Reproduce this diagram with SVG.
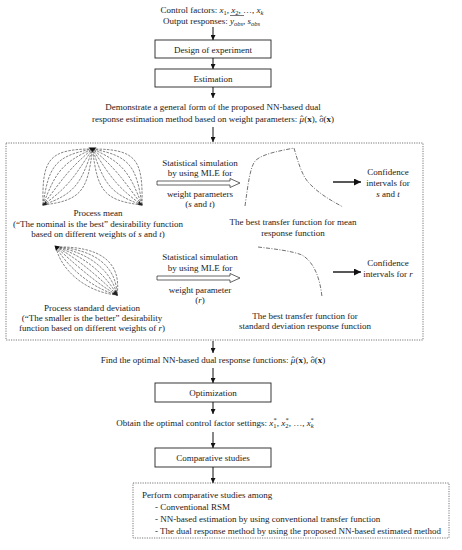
<svg xmlns="http://www.w3.org/2000/svg" width="462" height="550" viewBox="0 0 462 550">
<defs>
<marker id="ah" viewBox="0 0 6 6" refX="6" refY="3" markerWidth="5" markerHeight="5" orient="auto" markerUnits="userSpaceOnUse"><path d="M0,0 L6,3 L0,6 z" fill="#111"/></marker>
<marker id="ah2" viewBox="0 0 6 6" refX="6" refY="3" markerWidth="7" markerHeight="7" orient="auto" markerUnits="userSpaceOnUse"><path d="M0,0 L6,3 L0,6 z" fill="#111"/></marker>
<style>
text { font-family: "Liberation Serif", "Times New Roman", serif; font-size: 9px; fill: #1a1a1a; }
.m { text-anchor: middle; }
.i { font-style: italic; }
.b { font-weight: bold; }
.sub { font-size: 6.5px; }
.box { fill: #fff; stroke: #222; stroke-width: 0.9; }
.dbox { fill: none; stroke: #555; stroke-width: 0.8; stroke-dasharray: 1.2 1.2; }
.arr { stroke: #111; stroke-width: 1; fill: none; marker-end: url(#ah); }
.arr2 { stroke: #111; stroke-width: 1.4; fill: none; marker-end: url(#ah2); }
.fan { fill: none; stroke: #333; stroke-width: 0.6; stroke-dasharray: 2.5 1.2; }
.tf { fill: none; stroke: #333; stroke-width: 0.7; stroke-dasharray: 4 1.5 1 1.5; }
.hol { fill: #fff; stroke: #222; stroke-width: 0.7; }
</style>
</defs>
<rect width="462" height="550" fill="#fff"/>

<g id="inputs">
<text x="212" y="13" class="m">Control factors: <tspan class="i">x</tspan><tspan class="sub" dy="2">1</tspan><tspan dy="-2">, </tspan><tspan class="i">x</tspan><tspan class="sub" dy="2">2</tspan><tspan dy="-2">, …, </tspan><tspan class="i">x</tspan><tspan class="sub i" dy="2">k</tspan></text>
<text x="163" y="24">Output responses: <tspan class="i">y</tspan><tspan class="sub i" dy="2">obs</tspan><tspan dy="-2">, </tspan><tspan class="i">s</tspan><tspan class="sub i" dy="2">obs</tspan></text>
<line x1="230" y1="15.5" x2="244" y2="15.5" stroke="#1a1a1a" stroke-width="0.6"/>
</g>

<g id="design">
<rect class="box" x="155" y="40" width="116" height="18"/>
<text x="213" y="52.5" class="m">Design of experiment</text>
</g>

<g id="estimation">
<rect class="box" x="155" y="69" width="116" height="18"/>
<text x="213" y="81.5" class="m">Estimation</text>
</g>

<g id="demonstrate">
<text x="213" y="110" class="m">Demonstrate a general form of the proposed NN-based dual</text>
<text x="213" y="122" class="m">response estimation method based on weight parameters: <tspan class="i">μ</tspan><tspan dx="-3.8">ˆ</tspan><tspan dx="0.8">(</tspan><tspan class="b">x</tspan>), <tspan class="i">σ</tspan><tspan dx="-3.8">ˆ</tspan><tspan dx="0.8">(</tspan><tspan class="b">x</tspan>)</text>
</g>

<g id="estimation-detail">
<rect class="dbox" x="6" y="143" width="417" height="197"/>

<g id="mean-fan">
<path class="fan" d="M43,205 C42,160 48,149 92.5,149"/>
<path class="fan" d="M43,205 C48.6,166.75 54.6,155.9 92.5,149"/>
<path class="fan" d="M43,205 C55.2,173.5 61.2,162.8 92.5,149"/>
<path class="fan" d="M43,205 C61.8,180.25 67.8,169.7 92.5,149"/>
<path class="fan" d="M43,205 C68.4,187 74.4,176.6 92.5,149"/>
<path class="fan" d="M43,205 C75,193.75 81,183.5 92.5,149"/>
<path class="fan" d="M43,205 C81.6,200.5 87.6,190.4 92.5,149"/>
<path class="fan" d="M142,205 C143,160 137,149 92.5,149"/>
<path class="fan" d="M142,205 C136.4,166.75 130.4,155.9 92.5,149"/>
<path class="fan" d="M142,205 C129.8,173.5 123.8,162.8 92.5,149"/>
<path class="fan" d="M142,205 C123.2,180.25 117.2,169.7 92.5,149"/>
<path class="fan" d="M142,205 C116.6,187 110.6,176.6 92.5,149"/>
<path class="fan" d="M142,205 C110,193.75 104,183.5 92.5,149"/>
<path class="fan" d="M142,205 C103.4,200.5 97.4,190.4 92.5,149"/>
<path d="M88.5,147.5 L96.5,147.5 L92.5,152 z" fill="#111"/>
<path d="M42,205.5 L46,201 L47,205 z" fill="#222"/>
<path d="M143,205.5 L139,201 L138,205 z" fill="#222"/>
<text x="98" y="216" class="m">Process mean</text>
<text x="98" y="227" class="m">(“The nominal is the best” desirability function</text>
<text x="98" y="237" class="m">based on different weights of <tspan class="i">s</tspan> and <tspan class="i">t</tspan>)</text>
</g>

<g id="mean-simulation">
<text x="200" y="166" class="m">Statistical simulation</text>
<text x="200" y="176" class="m">by using MLE for</text>
<polygon class="hol" points="157,181 230,181 230,178.5 240,183 230,187.5 230,185 157,185"/>
<text x="200" y="197" class="m">weight parameters</text>
<text x="200" y="207" class="m">(<tspan class="i">s</tspan> and <tspan class="i">t</tspan>)</text>
</g>

<g id="mean-transfer">
<path class="tf" d="M245,206 C248,185 250,166 256,160 C265,153 280,151 294,148 C298,162 302,175 308,182 C318,193 330,200 343,207"/>
<text x="293" y="225" class="m">The best transfer function for mean</text>
<text x="293" y="236" class="m">response function</text>
</g>

<g id="mean-ci">
<text x="388" y="175" class="m">Confidence</text>
<text x="388" y="186" class="m">intervals for</text>
<text x="388" y="197" class="m"><tspan class="i">s</tspan> and <tspan class="i">t</tspan></text>
</g>

<g id="sd-fan">
<path class="fan" d="M56,247 C100,246 122,262 117,295"/>
<path class="fan" d="M56,247 C94.4,249.1 116.7,266.2 117,295"/>
<path class="fan" d="M56,247 C88.8,252.2 111.4,270.4 117,295"/>
<path class="fan" d="M56,247 C83.2,255.2 106,274.6 117,295"/>
<path class="fan" d="M56,247 C77.6,258.3 100.7,278.8 117,295"/>
<path class="fan" d="M56,247 C72,261.4 95.4,283 117,295"/>
<path class="fan" d="M56,247 C66,264.7 89.7,287.5 117,295"/>
<path class="fan" d="M56,247 C60,268 84,292 117,295"/>
<path d="M54.5,245.5 L60,246.5 L56,251 z" fill="#111"/>
<path d="M118,296 L112,294 L116,290 z" fill="#222"/>
<text x="92" y="311" class="m">Process standard deviation</text>
<text x="92" y="321" class="m">(“The smaller is the better” desirability</text>
<text x="92" y="331" class="m">function based on different weights of <tspan class="i">r</tspan>)</text>
</g>

<g id="sd-simulation">
<text x="200" y="260" class="m">Statistical simulation</text>
<text x="200" y="271" class="m">by using MLE for</text>
<polygon class="hol" points="157,276 230,276 230,273.5 240,278 230,282.5 230,280 157,280"/>
<text x="200" y="293" class="m">weight parameter</text>
<text x="200" y="303" class="m">(<tspan class="i">r</tspan>)</text>
</g>

<g id="sd-transfer">
<path class="tf" d="M258,247 C275,249 292,251 302,255 C314,262 320,278 322,297"/>
<text x="305" y="319" class="m">The best transfer function for</text>
<text x="305" y="329" class="m">standard deviation response function</text>
</g>

<g id="sd-ci">
<text x="388" y="266" class="m">Confidence</text>
<text x="388" y="277" class="m">intervals for <tspan class="i">r</tspan></text>
</g>
</g>

<g id="find">
<text x="213" y="363" class="m">Find the optimal NN-based dual response functions: <tspan class="i">μ</tspan><tspan dx="-3.8">ˆ</tspan><tspan dx="0.8">(</tspan><tspan class="b">x</tspan>), <tspan class="i">σ</tspan><tspan dx="-3.8">ˆ</tspan><tspan dx="0.8">(</tspan><tspan class="b">x</tspan>)</text>
</g>

<g id="optimization">
<rect class="box" x="155" y="383" width="116" height="19"/>
<text x="213" y="395.5" class="m">Optimization</text>
</g>

<g id="obtain">
<text x="215" y="426" class="m">Obtain the optimal control factor settings: <tspan class="i">x</tspan><tspan class="sub" dy="2">1</tspan><tspan class="sub" dx="-3" dy="-6">*</tspan><tspan dy="4">, </tspan><tspan class="i">x</tspan><tspan class="sub" dy="2">2</tspan><tspan class="sub" dx="-3" dy="-6">*</tspan><tspan dy="4">, …, </tspan><tspan class="i">x</tspan><tspan class="sub i" dy="2">k</tspan><tspan class="sub" dx="-3" dy="-6">*</tspan></text>
</g>

<g id="comparative">
<rect class="box" x="155" y="448" width="116" height="19"/>
<text x="213" y="460.5" class="m">Comparative studies</text>
</g>

<g id="perform">
<rect class="dbox" x="133" y="483" width="316" height="55"/>
<text x="142" y="498">Perform comparative studies among</text>
<text x="155" y="510">- Conventional RSM</text>
<text x="155" y="522">- NN-based estimation by using conventional transfer function</text>
<text x="155" y="534">- The dual response method by using the proposed NN-based estimated method</text>
</g>

<g id="connectors">
<line class="arr" x1="213" y1="27" x2="213" y2="40"/>
<line class="arr" x1="213" y1="58" x2="213" y2="69"/>
<line class="arr" x1="213" y1="87" x2="213" y2="98"/>
<line class="arr" x1="213" y1="127" x2="213" y2="142"/>
<line class="arr2" x1="333" y1="182" x2="361" y2="182"/>
<line class="arr2" x1="333" y1="272" x2="361" y2="272"/>
<line class="arr" x1="213" y1="341" x2="213" y2="353"/>
<line class="arr" x1="213" y1="368" x2="213" y2="383"/>
<line class="arr" x1="213" y1="402" x2="213" y2="414"/>
<line class="arr" x1="213" y1="432" x2="213" y2="448"/>
<line class="arr" x1="213" y1="467" x2="213" y2="483"/>
</g>
</svg>
